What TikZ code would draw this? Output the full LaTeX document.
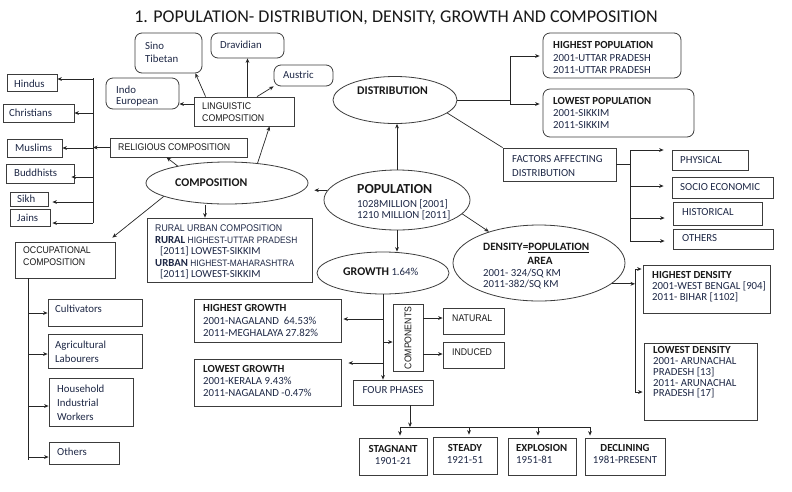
\documentclass[tikz,border=0pt]{standalone}
\usepackage{fontspec}
\setmainfont{Carlito}
\newfontfamily\arialf[FakeStretch=0.9]{Liberation Sans}
\usetikzlibrary{arrows.meta,shapes.geometric,fit,calc}
\definecolor{navy}{RGB}{30,40,70}
\definecolor{bord}{RGB}{60,60,60}
\newcommand{\dtf}[1][12.2]{\fontsize{10.8}{#1}\selectfont}
\newcommand{\arf}[1][12]{\arialf\fontsize{9.7}{#1}\selectfont}
\newcommand{\bxx}[6][]{\node[box,fit={(#3,#4)(#5,#6)},#1] (#2) {};}
\begin{document}
\begin{tikzpicture}[x=1pt,y=-1pt,
 box/.style={draw=bord,line width=0.8pt,inner sep=0pt,rectangle},
 rbox/.style={box,rounded corners=7pt},
 ell/.style={draw=bord,line width=0.8pt,ellipse,inner sep=0pt},
 arr/.style={draw=black!85,line width=0.7pt,-{Stealth[length=4.5pt,width=3.8pt]}},
 ln/.style={draw=black!85,line width=0.7pt},
 tx/.style={inner sep=0pt,align=left,text=navy,font=\dtf},
 ta/.style={inner sep=0pt,align=left,text=black!90,font=\arf},
 hb/.style={inner sep=0pt,text=black!90,font=\fontsize{11.8}{13}\selectfont\bfseries},
]
\useasboundingbox (0,0) rectangle (792,491);
\fill[white] (0,0) rectangle (792,491);

\node[text=black!90,font=\fontsize{18}{20}\selectfont] (title) at (396,18) {1. POPULATION- DISTRIBUTION, DENSITY, GROWTH AND COMPOSITION};

% ---------- boxes ----------
\bxx[rbox]{sino}{135}{33}{202}{73}
\bxx[rbox]{drav}{211}{33}{284}{58}
\bxx[rbox]{austric}{274}{65}{333}{86}
\bxx[rbox]{indo}{106}{78}{179}{109}
\bxx{ling}{194}{97}{294}{126}
\bxx{rel}{110}{138}{247}{157}
\bxx{hindus}{7}{74}{57}{91}
\bxx{christ}{3}{104}{74}{122}
\bxx{musl}{7}{139}{62}{157}
\bxx{budd}{6}{164}{74}{183}
\bxx{sikh}{10}{192}{48}{206}
\bxx{jains}{10}{209}{50}{226}
\bxx{occ}{15}{242}{115}{278}
\bxx{cult}{48}{299}{142}{326}
\bxx{agri}{48}{334}{142}{368}
\bxx{house}{49}{378}{133}{426}
\bxx{oth}{49}{442}{119}{464}
\bxx{rural}{147}{218}{312}{282}
\bxx[rbox]{hp}{543}{33}{681}{78}
\bxx[rbox]{lp}{543}{89}{694}{137}
\bxx{fact}{503}{148}{616}{181}
\bxx{phys}{672}{150}{748}{170}
\bxx{socio}{672}{177}{773}{198}
\bxx{hist}{673}{202}{762}{225}
\bxx{oth2}{673}{229}{773}{249}
\bxx{hdn}{643}{265}{770}{313}
\bxx{ldn}{644}{343}{757}{420}
\bxx{hg}{194}{299}{341}{342}
\bxx{lg}{194}{359}{341}{406}
\bxx{compo}{393}{304}{423}{371}
\bxx{nat}{443}{308}{504}{334}
\bxx{ind}{443}{342}{504}{368}
\bxx{four}{353}{380}{433}{405}
\bxx{stag}{359}{438}{427}{475}
\bxx{stead}{433}{437}{497}{474}
\bxx{expl}{508}{438}{576}{475}
\bxx{decl}{585}{438}{665}{475}

% ---------- ellipses ----------
\node[ell,minimum width=162pt,minimum height=42pt] (comp) at (227,183) {};
\node[ell,minimum width=146pt,minimum height=60pt] (pop) at (397,200) {};
\node[ell,minimum width=124pt,minimum height=47pt] (dist) at (395,100) {};
\node[ell,minimum width=172pt,minimum height=76pt] (dens) at (539,263) {};
\node[ell,minimum width=132pt,minimum height=42pt] (growth) at (383,273) {};

% ---------- texts ----------
\node[tx,anchor=north west,font={\dtf[13]}] (sino-t) at (145,41.5) {Sino\\Tibetan};
\node[tx,anchor=west] (drav-t) at (220,45) {Dravidian};
\node[tx,anchor=west] (austric-t) at (283,75) {Austric};
\node[tx,anchor=north west,font={\dtf[11.5]}] (indo-t) at (116,85.5) {Indo\\European};
\node[ta,anchor=north west] (ling-t) at (202,102.5) {LINGUISTIC\\COMPOSITION};
\node[ta,anchor=west] (rel-t) at (118,147.5) {RELIGIOUS COMPOSITION};
\node[tx,anchor=west] (hindus-t) at (14,83.5) {Hindus};
\node[tx,anchor=west] (christ-t) at (9,113) {Christians};
\node[tx,anchor=west] (musl-t) at (15,148) {Muslims};
\node[tx,anchor=west] (budd-t) at (14,173) {Buddhists};
\node[tx,anchor=west] (sikh-t) at (17,199) {Sikh};
\node[tx,anchor=west] (jains-t) at (17,218) {Jains};
\node[hb,anchor=west] (comp-t) at (175,183) {COMPOSITION};
\node[ta,anchor=north west] (occ-t) at (23,246.5) {OCCUPATIONAL\\COMPOSITION};
\node[tx,anchor=west] (cult-t) at (55,309) {Cultivators};
\node[tx,anchor=north west,font={\dtf[14]}] (agri-t) at (55,340.5) {Agricultural\\Labourers};
\node[tx,anchor=north west,font={\dtf[14]}] (house-t) at (57,384.5) {Household\\Industrial\\Workers};
\node[tx,anchor=west] (oth-t) at (57,452) {Others};
\node[tx,anchor=north west,font={\dtf[11.6]}] (rural-t) at (155,224.5) {{\arf RURAL URBAN COMPOSITION}\\
 \textbf{RURAL} {\arialf\fontsize{9.3}{11.6}\selectfont HIGHEST-UTTAR PRADESH}\\
 \ \ [2011] LOWEST-SIKKIM\\
 \textbf{URBAN} {\arialf\fontsize{9.3}{11.6}\selectfont HIGHEST-MAHARASHTRA}\\
 \ \ [2011] LOWEST-SIKKIM};
\node[hb,anchor=west,font={\fontsize{13.8}{15}\selectfont\bfseries}] (pop-h) at (357,189) {POPULATION};
\node[tx,anchor=north west,font={\dtf[10.7]}] (pop-t) at (357,199.5) {1028MILLION [2001]\\1210 MILLION [2011]};
\node[hb,anchor=west] (dist-t) at (357,91) {DISTRIBUTION};
\node[tx,anchor=north west,font={\dtf[12.5]}] (hp-t) at (553,41.5) {{\color{black!90}\bfseries HIGHEST POPULATION}\\2001-UTTAR PRADESH\\2011-UTTAR PRADESH};
\node[tx,anchor=north west,font={\dtf[12]}] (lp-t) at (553,97.5) {{\color{black!90}\bfseries LOWEST POPULATION}\\2001-SIKKIM\\2011-SIKKIM};
\node[tx,anchor=north west,font={\dtf[14]}] (fact-t) at (512,155.5) {FACTORS AFFECTING\\DISTRIBUTION};
\node[tx,anchor=west] (phys-t) at (680,160) {PHYSICAL};
\node[tx,anchor=west] (socio-t) at (680,187) {SOCIO ECONOMIC};
\node[tx,anchor=west] (hist-t) at (682,212) {HISTORICAL};
\node[tx,anchor=west] (oth2-t) at (682,238) {OTHERS};
\node[hb,anchor=west,font={\fontsize{11.2}{13}\selectfont\bfseries}] (dens-h) at (483,248) {DENSITY=\underline{POPULATION}};
\node[hb,font={\fontsize{11.2}{13}\selectfont\bfseries}] (dens-a) at (540,261) {AREA};
\node[tx,anchor=north west,font={\dtf[11]}] (dens-t) at (483,268.5) {2001- 324/SQ KM\\2011-382/SQ KM};
\node[tx,anchor=north west,font={\dtf[10.7]}] (hdn-t) at (652,271.5) {{\color{black!90}\bfseries HIGHEST DENSITY}\\2001-WEST BENGAL [904]\\2011- BIHAR [1102]};
\node[tx,anchor=north west,font={\dtf[10.8]}] (ldn-t) at (653,346.5) {{\color{black!90}\bfseries LOWEST DENSITY}\\2001- ARUNACHAL\\PRADESH [13]\\2011- ARUNACHAL\\PRADESH [17]};
\node[tx,anchor=west] (growth-t) at (343,272) {{\color{black!90}\fontsize{11.8}{13}\selectfont\bfseries GROWTH} 1.64\%};
\node[tx,anchor=north west,font={\dtf[12.3]}] (hg-t) at (203,304.5) {{\color{black!90}\bfseries HIGHEST GROWTH}\\2001-NAGALAND\ \ 64.53\%\\2011-MEGHALAYA 27.82\%};
\node[tx,anchor=north west,font={\dtf[12]}] (lg-t) at (203,365.5) {{\color{black!90}\bfseries LOWEST GROWTH}\\2001-KERALA 9.43\%\\2011-NAGALAND -0.47\%};
\node[ta,rotate=90] (compo-t) at (408,338) {COMPONENTS};
\node[ta,anchor=west] (nat-t) at (452,318) {NATURAL};
\node[ta,anchor=west] (ind-t) at (452,352) {INDUCED};
\node[tx] (four-t) at (393,390) {FOUR PHASES};
\node[tx,anchor=north,align=center] (stag-t) at (393,445.5) {{\color{black!90}\bfseries STAGNANT}\\1901-21};
\node[tx,anchor=north,align=center] (stead-t) at (465,444.5) {{\color{black!90}\bfseries STEADY}\\1921-51};
\node[tx,anchor=north west] (expl-t) at (516,444.5) {{\color{black!90}\bfseries EXPLOSION}\\1951-81};
\node[tx,anchor=north,align=center] (decl-t) at (625,444.5) {{\color{black!90}\bfseries DECLINING}\\1981-PRESENT};

% ---------- connectors ----------
% linguistic
\coordinate (lw) at ($(ling.west)+(0,-7.5)$);
\draw[arr] ($(ling.north west)+(12,0)$) -- ($(sino.south east)+(-7,0)$);
\draw[arr] (drav.south |- ling.north) -- (drav.south);
\draw[arr] ($(ling.north)+(13,0)$) -- (austric.south west);
\draw[arr] (lw) -- (lw -| indo.east);
% religious
\coordinate (rtop) at (93,79);
\coordinate (rbot) at (93,223);
\coordinate (r4) at (93,177);
\coordinate (r5) at (93,202);
\draw[ln] ($(rtop)+(0,-1)$) -- (rbot);
\draw[arr] (rel.west) -- (rel.west -| rtop);
\draw[arr] (rtop) -- (rtop -| hindus.east);
\draw[arr] (christ.east -| rtop) -- (christ.east);
\draw[arr] (musl.east -| rtop) -- (musl.east);
\draw[arr,shorten >=-3pt] (r4) -- (r4 -| budd.east);
\draw[arr,shorten >=4pt] (r5) -- (r5 -| sikh.east);
\draw[arr,shorten >=2pt] (rbot) -- (rbot -| jains.east);
% composition
\coordinate (cr) at (205,205);
\draw[arr] (comp.161) -- ($(rel.south west)+(57,0)$);
\draw[arr] (comp.33) -- ($(ling.south west)+(76,0)$);
\draw[arr] (comp.192) -- ($(occ.north east)+(-3,-4)$);
\draw[arr] (cr) -- (cr |- rural.north);
% occupational
\coordinate (o1) at (28,313);
\coordinate (o2) at (28,354);
\coordinate (o3) at (28,406);
\coordinate (o4) at (28,457);
\draw[ln] (occ.south -| o1) -- ($(o4)+(0,3)$);
\draw[arr] (o1) -- (o1 -| cult.west);
\draw[arr] (o2) -- (o2 -| agri.west);
\draw[arr] (o3) -- (o3 -| house.west);
\draw[arr] (o4) -- (o4 -| oth.west);
% population
\draw[arr,shorten >=6pt] (pop.172.6) -- (pop.172.6 -| comp.east);
\draw[arr] (pop.north) -- (pop.north |- dist.south);
\draw[arr] (pop.south) -- (pop.south |- growth.north);
\draw[arr] (pop.348) -- (dens.148);
% distribution
\coordinate (dh) at (510,56);
\coordinate (dl) at (510,104);
\draw[ln] (dist.east) -- (dist.east -| dh);
\draw[ln] (dh) -- (dl);
\draw[arr,shorten >=3pt] (dh) -- (dh -| hp.west);
\draw[arr,shorten >=3pt] (dl) -- (dl -| lp.west);
\draw[ln] (dist.346) -- (fact.north west);
% factors
\coordinate (fa) at (630,150);
\coordinate (fb) at (630,186);
\coordinate (fc) at (630,218);
\coordinate (fd) at (630,241);
\draw[ln] (fact.east) -- (fact.east -| fa);
\draw[ln] (fa) -- (fd);
\draw[arr,shorten >=8pt] (fa) -- (fa -| phys.west);
\draw[arr,shorten >=8pt] (fb) -- (fb -| socio.west);
\draw[arr,shorten >=8pt] (fc) -- (fc -| hist.west);
\draw[arr,shorten >=8pt] (fd) -- (fd -| oth2.west);
% density
\coordinate (ja) at (635,269);
\coordinate (jb) at (635,392);
\draw[ln] (ja) -- (jb);
\draw[arr] (dens.344.7) -- (dens.344.7 -| ja);
\draw[arr,shorten >=1pt] (ja) -- (ja -| hdn.west);
\draw[arr,shorten >=1pt] (jb) -- (jb -| ldn.west);
% growth
\coordinate (g1) at (383,319);
\coordinate (g2) at (383,342);
\coordinate (g3) at (383,363);
\draw[arr] (growth.south) -- (growth.south |- four.north);
\draw[arr,shorten >=2pt] (g1) -- (g1 -| hg.east);
\draw[arr] (g2) -- (g2 -| compo.west);
\draw[arr,shorten >=7pt] (g3) -- (g3 -| lg.east);
\coordinate (c1) at (423,318);
\coordinate (c2) at (423,354);
\draw[arr] (c1) -- (c1 -| nat.west);
\draw[arr] (c2) -- (c2 -| ind.west);
% phases
\coordinate (p0) at (410,405);
\coordinate (p0b) at (410,427);
\coordinate (pa) at (400,427);
\coordinate (pb) at (469,427);
\coordinate (pc) at (538,427);
\coordinate (pd) at (590,427);
\draw[arr] (p0) -- (p0b);
\draw[ln] (pa) -- (pd);
\draw[arr,shorten >=2pt] (pa) -- (pa |- stag.north);
\draw[arr,shorten >=2pt] (pb) -- (pb |- stead.north);
\draw[arr,shorten >=2pt] (pc) -- (pc |- expl.north);
\draw[arr,shorten >=2pt] (pd) -- (pd |- decl.north);
\end{tikzpicture}
\end{document}
